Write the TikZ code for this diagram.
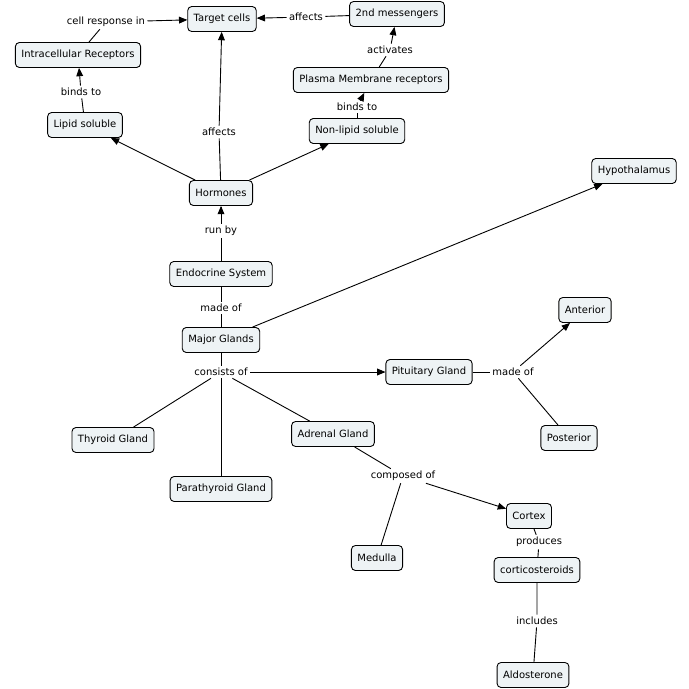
\documentclass[tikz,border=0pt]{standalone}
\usepackage{fontspec}
\setmainfont{DejaVu Sans}
\usepackage{tikz}
\usetikzlibrary{arrows, calc}
\definecolor{boxfill}{HTML}{EEF3F5}
\tikzstyle{concept} = [rectangle, rounded corners=4pt, draw=black, fill=boxfill, minimum height=25pt, inner xsep=6pt, font=\fontsize{10}{12}\selectfont]
\tikzstyle{phrase} = [fill=white, inner sep=2pt, font=\fontsize{10}{12}\selectfont]
\tikzstyle{arrow} = [->,>=triangle 45]
\begin{document}
\begin{tikzpicture}[x=1pt, y=-1pt, line width=0.9pt]
\useasboundingbox (0,0) rectangle (689,689);
\node (target) [concept] at (222,19) {Target cells};
\node (second) [concept] at (397,14) {2nd messengers};
\node (intra) [concept] at (78,55) {Intracellular Receptors};
\node (plasma) [concept] at (371,80) {Plasma Membrane receptors};
\node (lipid) [concept] at (85,125) {Lipid soluble};
\node (nonlipid) [concept] at (357,131) {Non-lipid soluble};
\node (hormones) [concept] at (221,193) {Hormones};
\node (hypo) [concept] at (634,171) {Hypothalamus};
\node (endo) [concept] at (221,274) {Endocrine System};
\node (major) [concept] at (221,340) {Major Glands};
\node (anterior) [concept] at (585,310) {Anterior};
\node (pituitary) [concept] at (429,372) {Pituitary Gland};
\node (thyroid) [concept] at (113,440) {Thyroid Gland};
\node (adrenal) [concept] at (333,434) {Adrenal Gland};
\node (posterior) [concept] at (569,438) {Posterior};
\node (parathyroid) [concept] at (221,489) {Parathyroid Gland};
\node (cortex) [concept] at (529,516) {Cortex};
\node (medulla) [concept] at (377,558) {Medulla};
\node (cortico) [concept] at (537,570) {corticosteroids};
\node (aldo) [concept] at (533,675) {Aldosterone};

\node (cellresp) [phrase] at (106,22) {cell response in};
\node (affects1) [phrase] at (306,17) {affects};
\node (activates) [phrase] at (390,50) {activates};
\node (binds1) [phrase] at (81,92) {binds to};
\node (binds2) [phrase] at (357,107) {binds to};
\node (affects2) [phrase] at (219,132) {affects};
\node (runby) [phrase] at (221,231) {run by};
\node (madeof1) [phrase] at (221,308) {made of};
\node (consists) [phrase] at (221,372) {consists of};
\node (madeof2) [phrase] at (513,372) {made of};
\node (composed) [phrase] at (403,476) {composed of};
\node (produces) [phrase] at (539,542) {produces};
\node (includes) [phrase] at (537,621) {includes};

\draw (intra) -- (cellresp);
\draw [arrow] (cellresp) -- (target);
\draw (second) -- (affects1);
\draw [arrow] (affects1) -- (target);
\draw (plasma) -- (activates);
\draw [arrow] (activates) -- (second);
\draw (lipid) -- (binds1);
\draw [arrow] (binds1) -- (intra);
\draw (nonlipid) -- (binds2);
\draw [arrow] (binds2) -- (plasma);
\draw (hormones) -- (affects2);
\draw [arrow] (affects2) -- (target);
\draw [arrow] (hormones) -- (lipid);
\draw [arrow] (hormones) -- (nonlipid);
\draw (endo) -- (runby);
\draw [arrow] (runby) -- (hormones);
\draw (endo) -- (madeof1) -- (major);
\draw [arrow] (major) -- (hypo);
\draw (major) -- (consists);
\draw [arrow] (consists) -- (pituitary);
\draw (consists) -- (thyroid);
\draw (consists) -- (parathyroid);
\draw (consists) -- (adrenal);
\draw (pituitary) -- (madeof2);
\draw [arrow] (madeof2) -- (anterior);
\draw (madeof2) -- (posterior);
\draw (adrenal) -- (composed);
\draw [arrow] (composed) -- (cortex);
\draw (composed) -- (medulla);
\draw (cortex) -- (produces) -- (cortico);
\draw (cortico) -- (includes) -- (aldo);
\end{tikzpicture}
\end{document}
